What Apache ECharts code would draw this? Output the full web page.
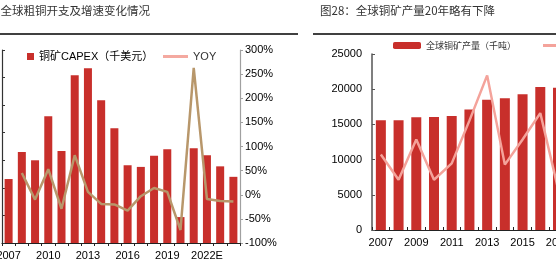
<!DOCTYPE html>
<html>
<head>
<meta charset="utf-8">
<script src="https://cdn.jsdelivr.net/npm/echarts@6/dist/echarts.min.js"></script>
<style>
	html, body { margin: 0; padding: 0; background: #fff; }
	#chart { width: 556px; height: 278px; }
</style>
</head>
<body>
<div id="chart"></div>
<script>
// left panel: copper mine capex + yoy
const capexYears = ['2007', '2008', '2009', '2010', '2011', '2012', '2013', '2014', '2015', '2016', '2017', '2018', '2019', '2020', '2021', '2022E', '2023E', '2024E'];
const capexValues = [11600, 16500, 15000, 23000, 16700, 30400, 31700, 25900, 20800, 14100, 13800, 15800, 17000, 4700, 17200, 15900, 13900, 12000];
const capexYoy = [null, 45, -10, 53, -29, 82, 6, -19, -20, -33, -3, 14, 6, -73, 263, -9, -13, -14];

// right panel: global mine output + growth
const prodYears = ['2007', '2008', '2009', '2010', '2011', '2012', '2013', '2014', '2015', '2016', '2017', '2018', '2019', '2020'];
const prodValues = [15600, 15600, 16000, 16050, 16200, 17100, 18500, 18700, 19300, 20300, 20200, 20600, 20400, 20000];
const prodGrowth = [2.0, 0.0, 3.2, 0.0, 1.3, 4.7, 8.3, 1.2, 3.2, 5.3, -0.7, 2.0, -1.0, -2.0];

const red = '#c82f2b';
const fontLatin = 'Liberation Sans, Arial, Noto Sans CJK SC';
const fontCjk = 'Noto Sans CJK SC, Liberation Sans';
const plain = (v) => String(v);

const chart = echarts.init(document.getElementById('chart'), null, { renderer: 'canvas' });

const option = {
	animation: false,
	backgroundColor: '#fff',
	textStyle: { fontFamily: fontLatin },
	graphic: [
		{ type: 'text', left: 150 - 13 * 11.5, top: 5, style: { text: '全球粗铜开支及增速变化情况', fontSize: 11.5, fontFamily: fontCjk, fill: '#333' } },
		{ type: 'text', left: 320, top: 5, style: { text: '图28：全球铜矿产量20年略有下降', fontSize: 11.5, fontFamily: fontCjk, fill: '#333' } },
		{ type: 'line', shape: { x1: 0, y1: 34, x2: 298, y2: 34 }, style: { stroke: '#000', lineWidth: 1.5 } },
		{ type: 'line', shape: { x1: 313, y1: 34, x2: 556, y2: 34 }, style: { stroke: '#000', lineWidth: 1.5 } },
	],
	legend: [
		{
			left: 27, top: 51, padding: 0, icon: 'rect', itemWidth: 7, itemHeight: 7, itemGap: 4,
			data: ['铜矿CAPEX（千美元）'],
			textStyle: { fontSize: 11, color: '#000', fontFamily: fontLatin },
		},
		{
			left: 163, top: 51, padding: 0, icon: 'rect', itemWidth: 25, itemHeight: 3, itemGap: 4,
			data: [{ name: 'YOY', itemStyle: { color: '#f4a9a0' } }],
			textStyle: { fontSize: 11, color: '#333' },
		},
		{
			left: 393, top: 41, padding: 0, icon: 'roundRect', itemWidth: 28, itemHeight: 7,
			data: ['全球铜矿产量（千吨）'],
			textStyle: { fontSize: 9, color: '#333', fontFamily: fontCjk },
		},
		{
			left: 543, top: 41, padding: 0, icon: 'rect', itemWidth: 30, itemHeight: 3,
			data: ['增速（右轴）'],
			textStyle: { fontSize: 9, color: '#333', fontFamily: fontCjk },
		},
	],
	grid: [
		{ left: 2, width: 238, top: 50, bottom: 35, outerBoundsMode: 'none', containLabel: false },
		{ left: 372, width: 248, top: 54, bottom: 48, outerBoundsMode: 'none', containLabel: false },
	],
	xAxis: [
		{
			gridIndex: 0, type: 'category', data: capexYears,
			axisLine: { lineStyle: { color: '#222', width: 1.2 } },
			axisTick: { show: true, interval: 0, length: 3, lineStyle: { color: '#222' } },
			axisLabel: { interval: 2, margin: 7, fontSize: 11, color: '#000', hideOverlap: false },
		},
		{
			gridIndex: 1, type: 'category', data: prodYears,
			axisLine: { lineStyle: { color: '#222', width: 1.2 } },
			axisTick: { show: true, interval: 0, inside: true, length: 3, lineStyle: { color: '#222' } },
			axisLabel: { interval: 1, margin: 7, fontSize: 11, color: '#000', hideOverlap: false },
		},
	],
	yAxis: [
		{
			gridIndex: 0, type: 'value', min: 0, max: 35000, interval: 5000,
			axisLine: { show: true, lineStyle: { color: '#333', width: 1.2 } },
			axisTick: { show: true, inside: true, length: 3, lineStyle: { color: '#333' } },
			axisLabel: { fontSize: 11, color: '#000', formatter: plain },
			splitLine: { show: false },
		},
		{
			gridIndex: 0, type: 'value', position: 'right', min: -100, max: 300, interval: 50,
			axisLine: { show: true, lineStyle: { color: '#a0a0a0', width: 1.2 } },
			axisTick: { show: true, length: 3, lineStyle: { color: '#a0a0a0' } },
			axisLabel: { formatter: '{value}%', margin: 5, fontSize: 11, color: '#000' },
			splitLine: { show: false },
		},
		{
			gridIndex: 1, type: 'value', min: 0, max: 25000, interval: 5000,
			axisLine: { show: true, lineStyle: { color: '#555', width: 1.5 } },
			axisTick: { show: true, inside: true, length: 3, lineStyle: { color: '#555' } },
			axisLabel: { margin: 10, fontSize: 11, color: '#000', formatter: plain },
			splitLine: { show: false },
		},
		{
			gridIndex: 1, type: 'value', position: 'right', min: -4, max: 10, interval: 2,
			show: false,
			splitLine: { show: false },
		},
	],
	series: [
		{
			name: '铜矿CAPEX（千美元）', type: 'bar', xAxisIndex: 0, yAxisIndex: 0,
			data: capexValues, barWidth: 8, itemStyle: { color: red },
		},
		{
			name: 'YOY', type: 'line', xAxisIndex: 0, yAxisIndex: 1,
			data: capexYoy, symbol: 'none', z: 5,
			lineStyle: { color: '#b8976b', width: 2.5 }, itemStyle: { color: '#b8976b' },
		},
		{
			name: '全球铜矿产量（千吨）', type: 'bar', xAxisIndex: 1, yAxisIndex: 2,
			data: prodValues, barWidth: 10, itemStyle: { color: red },
		},
		{
			name: '增速（右轴）', type: 'line', xAxisIndex: 1, yAxisIndex: 3,
			data: prodGrowth, symbol: 'none', z: 5,
			lineStyle: { color: '#f4a39b', width: 2.5 }, itemStyle: { color: '#f4a39b' },
		},
	],
};

chart.setOption(option);
</script>
</body>
</html>
